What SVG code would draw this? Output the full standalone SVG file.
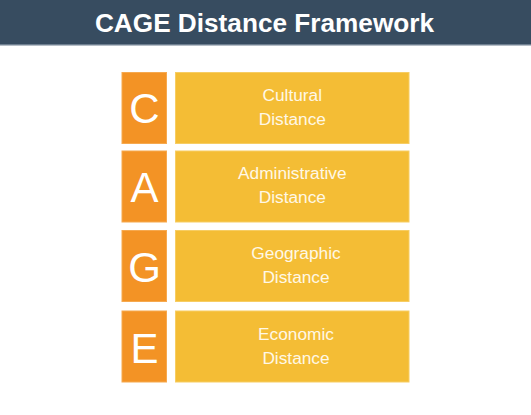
<svg xmlns="http://www.w3.org/2000/svg" width="531" height="415" viewBox="0 0 531 415">
<style>
.letter{fill:#F39325;stroke:#F6A94F;stroke-width:1}
.box{fill:#F4BD35;stroke:#F7CD63;stroke-width:1}
.lt{font-family:"Liberation Sans",Arial,sans-serif;font-size:42px;fill:#ffffff;text-anchor:middle}
.bt{font-family:"Liberation Sans",Arial,sans-serif;font-size:17.3px;fill:#FFF8E6;text-anchor:middle}
</style>
<rect x="0" y="0" width="531" height="415" fill="#ffffff"/>
<g id="header">
<rect x="0" y="0" width="531" height="45" fill="#374C60"/>
<rect x="0" y="44" width="531" height="1.5" fill="#6E7F90"/>
<text x="264.5" y="31.5" font-family="'Liberation Sans',Arial,sans-serif" font-size="26.2" font-weight="bold" fill="#ffffff" text-anchor="middle">CAGE Distance Framework</text>
</g>
<g id="row-c">
<rect class="letter" x="122" y="72.5" width="44.5" height="71"/>
<text class="lt" x="144.5" y="123.3">C</text>
<rect class="box" x="175.5" y="72.5" width="233.5" height="71"/>
<text class="bt" x="292.3" y="100.7">Cultural</text>
<text class="bt" x="292.3" y="125">Distance</text>
</g>
<g id="row-a">
<rect class="letter" x="122" y="151" width="44.5" height="71"/>
<text class="lt" x="144.5" y="201.7">A</text>
<rect class="box" x="175.5" y="151" width="233.5" height="71"/>
<text class="bt" x="292.3" y="179.3">Administrative</text>
<text class="bt" x="292.3" y="202.7">Distance</text>
</g>
<g id="row-g">
<rect class="letter" x="122" y="230.5" width="44.5" height="71"/>
<text class="lt" x="144.5" y="281.7">G</text>
<rect class="box" x="175.5" y="230.5" width="233.5" height="71"/>
<text class="bt" x="296" y="259.3">Geographic</text>
<text class="bt" x="296" y="283.3">Distance</text>
</g>
<g id="row-e">
<rect class="letter" x="122" y="311" width="44.5" height="71"/>
<text class="lt" x="144.5" y="363.3">E</text>
<rect class="box" x="175.5" y="311" width="233.5" height="71"/>
<text class="bt" x="296" y="340">Economic</text>
<text class="bt" x="296" y="364">Distance</text>
</g>
<g id="connectors"></g>
</svg>
